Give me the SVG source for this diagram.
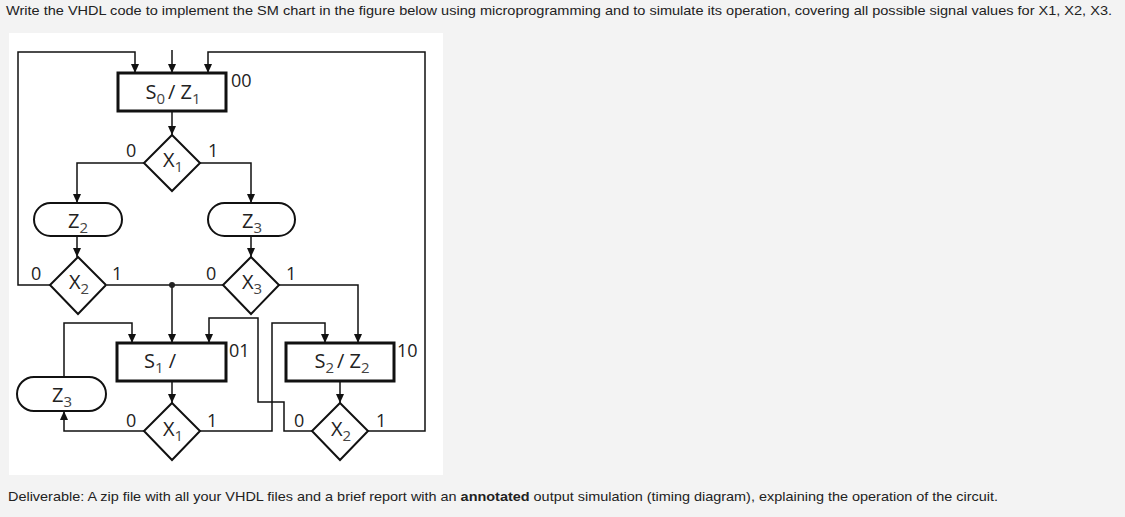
<svg xmlns="http://www.w3.org/2000/svg" width="1125" height="517" viewBox="0 0 1125 517">
<style>
.page{font-family:"Liberation Sans",Arial,sans-serif;font-size:13px;fill:#222}
.box{fill:#fff;stroke:#111;stroke-width:3}
.dia{fill:#fff;stroke:#111;stroke-width:2}
.ov{fill:#fff;stroke:#111;stroke-width:2}
.t{font-family:"Open Sans","Noto Sans",sans-serif;font-size:20px;fill:#222;text-anchor:middle}
.lb{font-family:"Open Sans","Noto Sans",sans-serif;font-size:18px;fill:#222}
.sub{font-size:15px;fill:#444}
.c{fill:none;stroke:#111;stroke-width:1.5}
</style>
<defs>
<marker id="ah" markerUnits="userSpaceOnUse" markerWidth="10" markerHeight="10" refX="9" refY="4" orient="auto">
<path d="M0,0 L9,4 L0,8 Z" fill="#111"/>
</marker>
</defs>
<rect width="1125" height="517" fill="#f3f3f3"/>
<rect x="9" y="33" width="434" height="442" fill="#fff"/>
<text class="page" x="6" y="15" textLength="1106" lengthAdjust="spacingAndGlyphs">Write the VHDL code to implement the SM chart in the figure below using microprogramming and to simulate its operation, covering all possible signal values for X1, X2, X3.</text>
<text class="page" x="8" y="501" textLength="990" lengthAdjust="spacingAndGlyphs">Deliverable: A zip file with all your VHDL files and a brief report with an <tspan font-weight="bold">annotated</tspan> output simulation (timing diagram), explaining the operation of the circuit.</text>

<g id="connectors">
<polyline class="c" points="50,285 18,285 18,52 135,52 135,73" marker-end="url(#ah)"/>
<polyline class="c" points="172,50 172,73" marker-end="url(#ah)"/>
<polyline class="c" points="368,431 425,431 425,52 208,52 208,73" marker-end="url(#ah)"/>
<polyline class="c" points="172,111 172,135" marker-end="url(#ah)"/>
<polyline class="c" points="144,163 77,163 77,203" marker-end="url(#ah)"/>
<polyline class="c" points="200,163 251,163 251,203" marker-end="url(#ah)"/>
<polyline class="c" points="77,236 77,257" marker-end="url(#ah)"/>
<polyline class="c" points="251,236 251,257" marker-end="url(#ah)"/>
<polyline class="c" points="107,285 223,285"/>
<polyline class="c" points="172,285 172,343" marker-end="url(#ah)"/>
<circle cx="172" cy="285" r="3" fill="#222"/>
<polyline class="c" points="279,285 358,285 358,343" marker-end="url(#ah)"/>
<polyline class="c" points="172,381 172,403" marker-end="url(#ah)"/>
<polyline class="c" points="144,431 64,431 64,411" marker-end="url(#ah)"/>
<polyline class="c" points="64,377 64,323 132,323 132,343" marker-end="url(#ah)"/>
<polyline class="c" points="200,431 272,431 272,323 325,323 325,343" marker-end="url(#ah)"/>
<polyline class="c" points="312,431 284,431 284,402 258,402 258,318 209,318 209,343" marker-end="url(#ah)"/>
<polyline class="c" points="340,381 340,403" marker-end="url(#ah)"/>
</g>

<g id="S0">
<rect class="box" x="118" y="73" width="108" height="38"/>
<text class="t" x="173" y="99">S<tspan class="sub" dy="5">0</tspan><tspan dy="-5" dx="3">/ Z</tspan><tspan class="sub" dy="5">1</tspan></text>
<text class="lb" x="231" y="87">00</text>
</g>

<g id="X1a">
<polygon class="dia" points="172,135 200,163 172,191 144,163"/>
<text class="t" x="173" y="167">X<tspan class="sub" dy="5">1</tspan></text>
<text class="lb" x="126" y="157">0</text>
<text class="lb" x="208" y="157">1</text>
</g>

<g id="Z2a">
<rect class="ov" x="34" y="203" width="88" height="33" rx="16.5"/>
<text class="t" x="78" y="228">Z<tspan class="sub" dy="5">2</tspan></text>
</g>

<g id="Z3a">
<rect class="ov" x="208" y="203" width="87" height="33" rx="16.5"/>
<text class="t" x="252" y="228">Z<tspan class="sub" dy="5">3</tspan></text>
</g>

<g id="X2a">
<polygon class="dia" points="78,257 106,285 78,314 50,285"/>
<text class="t" x="79" y="289">X<tspan class="sub" dy="5">2</tspan></text>
<text class="lb" x="31" y="280">0</text>
<text class="lb" x="112" y="280">1</text>
</g>

<g id="X3">
<polygon class="dia" points="251,257 279,285 251,314 223,285"/>
<text class="t" x="252" y="289">X<tspan class="sub" dy="5">3</tspan></text>
<text class="lb" x="206" y="280">0</text>
<text class="lb" x="286" y="280">1</text>
</g>

<g id="S1">
<rect class="box" x="117" y="343" width="109" height="38"/>
<text class="t" x="160" y="368">S<tspan class="sub" dy="5">1</tspan><tspan dy="-5"> /</tspan></text>
<text class="lb" x="229" y="357">01</text>
</g>

<g id="S2">
<rect class="box" x="286" y="343" width="108" height="38"/>
<text class="t" x="342" y="368">S<tspan class="sub" dy="5">2</tspan><tspan dy="-5" dx="3">/ Z</tspan><tspan class="sub" dy="5">2</tspan></text>
<text class="lb" x="397" y="357">10</text>
</g>

<g id="Z3b">
<rect class="ov" x="17" y="377" width="89" height="34" rx="17"/>
<text class="t" x="62" y="402">Z<tspan class="sub" dy="5">3</tspan></text>
</g>

<g id="X1b">
<polygon class="dia" points="172,403 200,431 172,460 144,431"/>
<text class="t" x="173" y="436">X<tspan class="sub" dy="5">1</tspan></text>
<text class="lb" x="126" y="427">0</text>
<text class="lb" x="207" y="427">1</text>
</g>

<g id="X2b">
<polygon class="dia" points="340,403 368,431 340,460 312,431"/>
<text class="t" x="341" y="436">X<tspan class="sub" dy="5">2</tspan></text>
<text class="lb" x="294" y="427">0</text>
<text class="lb" x="376" y="427">1</text>
</g>
</svg>
